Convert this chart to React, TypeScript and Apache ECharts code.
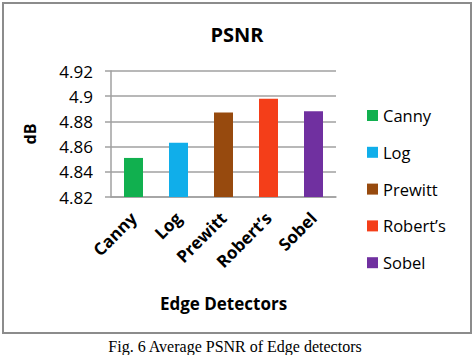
import React, { useEffect, useRef } from "react";
import * as echarts from "echarts";

const categories = ["Canny", "Log", "Prewitt", "Robert\u2019s", "Sobel"];
const values = [4.851, 4.863, 4.887, 4.898, 4.888];
const colors = ["#11b04f", "#10aeea", "#974a0e", "#f43e19", "#7030a0"];
const yTicks = { min: 4.82, max: 4.92, interval: 0.02 };

export default function App() {
  const ref = useRef<HTMLDivElement>(null);
  useEffect(() => {
    const chart = echarts.init(ref.current!, null, { renderer: "svg" });
    const font = "'Open Sans', 'Noto Sans', sans-serif";
    const series = categories.map((name, i) => ({
      name,
      type: "bar",
      stack: "all",
      barWidth: 19,
      itemStyle: { color: colors[i] },
      data: categories.map((_, j) => (j === i ? values[i] : "-")),
    }));
    chart.setOption({
      animation: false,
      title: {
        text: "PSNR",
        left: "center",
        top: 19,
        textStyle: { fontFamily: font, fontSize: 20, fontWeight: "bold", color: "#000" },
      },
      legend: {
        orient: "vertical",
        left: 362,
        top: 102,
        padding: 5,
        itemWidth: 11,
        itemHeight: 11,
        itemGap: 19.8,
        icon: "rect",
        data: categories,
        textStyle: { fontFamily: font, fontSize: 16.5, color: "#000" },
      },
      grid: { left: 111, right: 138, top: 71, bottom: 158, containLabel: false },
      xAxis: {
        type: "category",
        data: categories,
        name: "Edge Detectors",
        nameLocation: "middle",
        nameGap: 98,
        nameTextStyle: { fontFamily: font, fontSize: 17, fontWeight: "bold", color: "#000" },
        axisLine: { lineStyle: { color: "#a0a0a0", width: 1.5 } },
        axisTick: { show: false },
        axisLabel: {
          rotate: 45,
          margin: 18,
          interval: 0,
          fontFamily: font,
          fontSize: 17,
          fontWeight: "bold",
          color: "#000",
        },
      },
      yAxis: {
        type: "value",
        min: yTicks.min,
        max: yTicks.max,
        interval: yTicks.interval,
        name: "dB",
        nameLocation: "middle",
        nameGap: 73,
        nameTextStyle: { fontFamily: font, fontSize: 16, fontWeight: "bold", color: "#000" },
        axisLine: { show: true, lineStyle: { color: "#a0a0a0", width: 1.5 } },
        axisTick: { show: true, length: 6, lineStyle: { color: "#a0a0a0", width: 1.5 } },
        splitLine: { show: true, lineStyle: { color: "#a0a0a0", width: 1.5 } },
        axisLabel: {
          margin: 18,
          fontFamily: font,
          fontSize: 17,
          color: "#000",
          formatter: (v: number) => String(parseFloat(v.toFixed(2))),
        },
      },
      graphic: [
        {
          type: "rect",
          shape: { x: 3, y: 3, width: 468, height: 330 },
          style: { fill: "none", stroke: "#8c8c8c", lineWidth: 2 },
          silent: true,
        },
        {
          type: "text",
          x: 235,
          y: 346,
          style: {
            text: "Fig. 6 Average PSNR of Edge detectors",
            fontFamily: "'Liberation Serif', 'DejaVu Serif', serif",
            fontSize: 16,
            fill: "#000",
            align: "center",
            verticalAlign: "middle",
          },
        },
      ],
      series,
    });
    return () => chart.dispose();
  }, []);
  return (
    <div
      ref={ref}
      style={{ position: "absolute", left: 0, top: 0, width: 474, height: 355, background: "#fff" }}
    />
  );
}
